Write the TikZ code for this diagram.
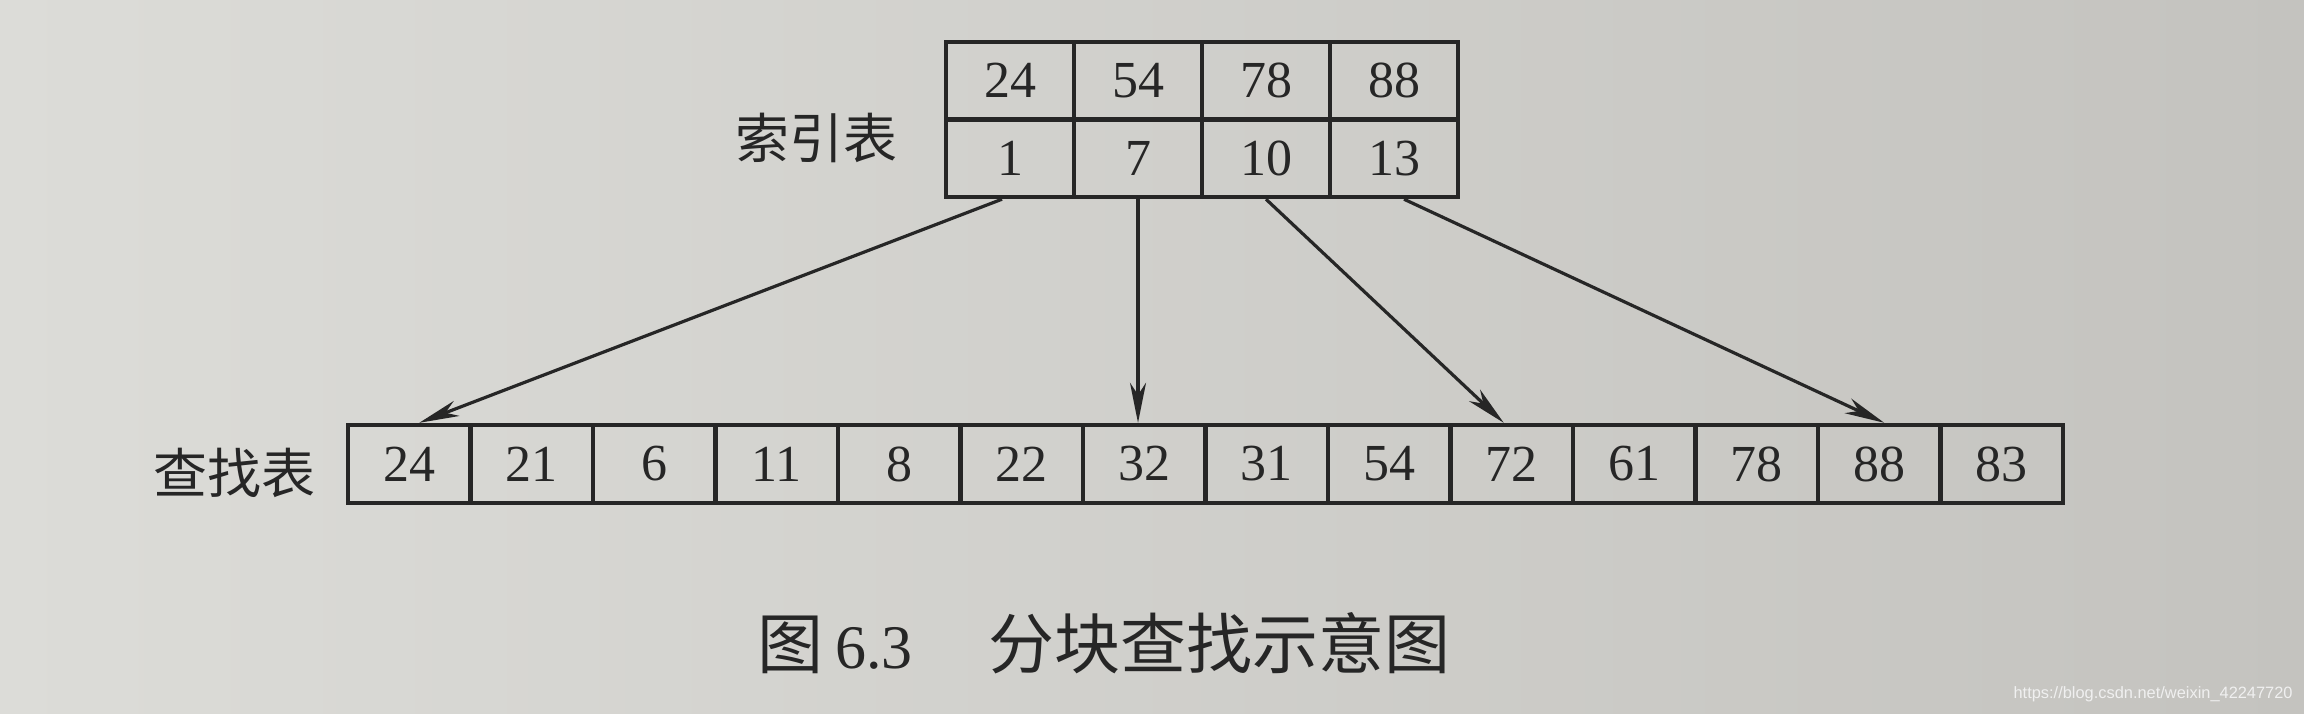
\documentclass[tikz,border=0pt]{standalone}
\usepackage{fontspec}
\setmainfont{Liberation Serif}
\newfontfamily\cjk{Noto Sans CJK SC}
\newfontfamily\wmfont{Liberation Sans}
\usetikzlibrary{arrows.meta,calc}
\definecolor{paperL}{RGB}{220,220,216}
\definecolor{paperR}{RGB}{196,195,191}
\definecolor{ink}{RGB}{38,38,38}
\definecolor{wm}{RGB}{240,240,240}
\begin{document}
\begin{tikzpicture}[x=0.5pt,y=-0.5pt,
  idxcell/.style={draw=ink,line width=2.2pt,minimum width=64pt,minimum height=38.75pt,inner sep=0pt,text=ink,font=\fontsize{26}{26}\selectfont},
  srchcell/.style={draw=ink,line width=2.2pt,minimum width=61.25pt,minimum height=39pt,inner sep=0pt,text=ink,font=\fontsize{26}{26}\selectfont},
  lbl/.style={inner sep=0pt,text=ink,font=\cjk\fontsize{27}{27}\selectfont},
  ptr/.style={draw=ink,line width=1.6pt,-{Stealth[length=20pt,width=8pt,inset=6pt]}}]
\shade[left color=paperL,right color=paperR] (0,0) rectangle (2304,713);
\useasboundingbox (0,0) rectangle (2304,713);
% index table
\foreach \v [count=\i] in {24,54,78,88}
  \node[idxcell] (t\i) at ({946+64+128*(\i-1)},80.75) {\v};
\foreach \v [count=\i] in {1,7,10,13}
  \node[idxcell] (b\i) at ({946+64+128*(\i-1)},158.25) {\v};
% search table
\foreach \v [count=\i] in {24,21,6,11,8,22,32,31,54,72,61,78,88,83}
  \node[srchcell] (s\i) at ({348+61.25+122.5*(\i-1)},464) {\v};
% labels
\node[lbl,anchor=east] (idxlbl) at (898,138) {索引表};
\node[lbl,anchor=east] (srchlbl) at (316,473) {查找表};
% caption
\node[inner sep=0pt,anchor=west,text=ink] (cap) at (757,643)
  {{\cjk\fontsize{33}{33}\selectfont 图}\hspace{6pt}{\fontsize{31}{31}\selectfont 6.3}\hspace{38pt}{\cjk\fontsize{33}{33}\selectfont 分块查找示意图}};
% watermark
\node[anchor=east,inner sep=0pt,text=wm,font=\wmfont\fontsize{8.2}{8.2}\selectfont] (wmk) at (2293,694) {https://blog.csdn.net/weixin\_42247720};
% pointers
\draw[ptr] ($(b1.south)+(-8,0)$) -- ($(s1.north)+(10,0)$);
\draw[ptr] (b2.south) -- (b2.south |- s7.north);
\draw[ptr] (b3.south) -- ($(s10.north)+(-8,0)$);
\draw[ptr] ($(b4.south)+(10,0)$) -- ($(s13.north)+(5,0)$);
\end{tikzpicture}
\end{document}
